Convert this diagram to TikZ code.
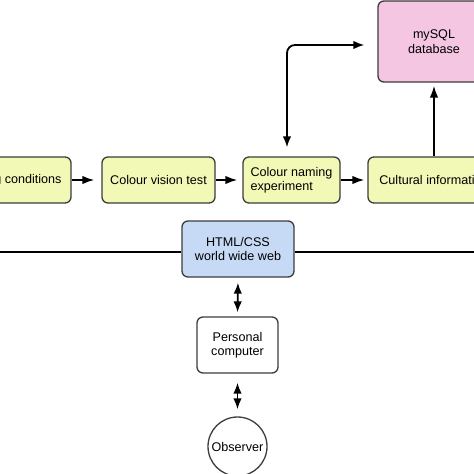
\documentclass[tikz,border=0pt]{standalone}
\usepackage{fontspec}
\setmainfont{Liberation Sans}
\usetikzlibrary{arrows.meta}
\definecolor{boxyellow}{RGB}{242,249,182}
\definecolor{boxpink}{RGB}{244,198,226}
\definecolor{boxblue}{RGB}{198,218,246}
\definecolor{edgegray}{RGB}{60,60,60}
\begin{document}
\begin{tikzpicture}[x=1pt,y=-1pt, font=\fontsize{12.6}{14.5}\selectfont,
  box/.style={draw=edgegray, line width=1.3pt, rounded corners=6pt, inner sep=0pt, align=center},
  conn/.style={line width=1.8pt, black},
  tip/.style={-{Latex[length=12pt,width=8.5pt]}},
  dtip/.style={{Latex[length=11pt,width=8.5pt]}-{Latex[length=11pt,width=8.5pt]}}]
\useasboundingbox (0,0) rectangle (474,474);
\fill[white] (0,0) rectangle (474,474);
% horizontal network line
\coordinate (L) at (-5,252);
\coordinate (R) at (480,252);
\node[box, fill=boxyellow, minimum width=123pt, minimum height=46pt] (view) at (9.5,180) {Viewing conditions};
\node[box, fill=boxyellow, minimum width=113pt, minimum height=46pt] (vision) at (158.5,180) {Colour vision test};
\node[box, fill=boxyellow, minimum width=97pt, minimum height=46pt, align=left] (naming) at (291.5,180) {Colour naming\\experiment};
\node[box, fill=boxyellow, minimum width=132pt, minimum height=46pt] (culture) at (434,180) {Cultural information};
\node[box, fill=boxpink, minimum width=112pt, minimum height=81pt] (db) at (434,41.5) {mySQL\\database};
\node[box, fill=boxblue, minimum width=112pt, minimum height=56pt] (web) at (238,249) {HTML/CSS\\world wide web};
\node[box, fill=white, minimum width=81pt, minimum height=56pt] (pc) at (237.5,345) {Personal\\computer};
\node[draw=edgegray, line width=1.3pt, circle, minimum size=59pt, inner sep=0pt] (obs) at (237.5,446.5) {Observer};
\coordinate (corner) at (287,45);
% connectors
\draw[conn, tip, shorten >=7pt] (view) -- (vision);
\draw[conn, tip, shorten >=5pt] (vision) -- (naming);
\draw[conn, tip, shorten >=3pt] (naming) -- (culture);
\draw[conn, tip, shorten >=3pt] (culture.north) -- (db.south);
\draw[conn, dtip, rounded corners=8pt, shorten <=9pt, shorten >=13pt] (naming.north -| corner) -- (corner) -- (corner -| db.west);
\draw[conn] (L) -- (L -| web.west);
\draw[conn] (web.east |- R) -- (R);
\draw[conn, dtip, shorten <=5pt, shorten >=4pt] (web.south) -- (pc.north);
\draw[conn, dtip, shorten <=9pt, shorten >=7pt] (pc.south) -- (obs.north);
\end{tikzpicture}
\end{document}
